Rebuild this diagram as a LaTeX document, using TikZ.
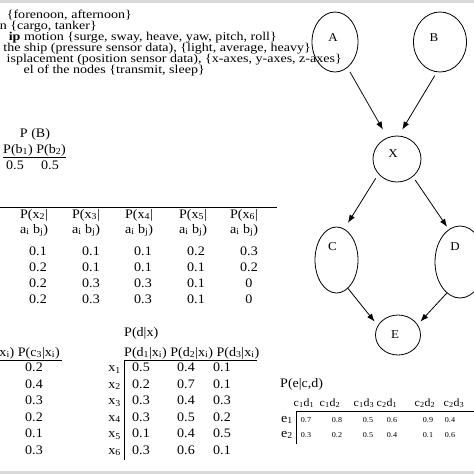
\documentclass[tikz,border=0pt]{standalone}
\usepackage{fontspec}
\setmainfont[FakeStretch=1.08]{Liberation Serif}
\newfontfamily\widefont[FakeStretch=1.17]{Liberation Serif}
\usetikzlibrary{shapes.geometric, arrows.meta, positioning}
\definecolor{bandgray}{RGB}{217,217,217}
\newcommand{\lo}[1]{\textsubscript{#1}}

\begin{document}
\begin{tikzpicture}[
  x=1pt, y=-1pt,
  txt/.style={inner sep=0pt, font=\fontsize{13}{13}\selectfont},
  line/.style={inner sep=0pt, anchor=base east, font=\widefont\fontsize{12}{12}\selectfont},
  val/.style={txt, anchor=base},
  hdr/.style={inner sep=0pt, anchor=base, font=\fontsize{11}{11}\selectfont},
  small/.style={inner sep=0pt, anchor=base, font=\fontsize{7.5}{7.5}\selectfont},
  bnode/.style={draw, ellipse, line width=0.8pt, inner sep=0pt},
  vlab/.style={inner sep=0pt, font=\fontsize{12}{12}\selectfont},
  link/.style={-{Latex[length=8pt, width=6pt]}, line width=0.8pt},
  rule/.style={line width=0.8pt}
]
  \useasboundingbox (0,0) rectangle (474,474);
  \clip (0,0) rectangle (474,474);
  \fill[bandgray] (0,0) rectangle (474,3);
  \fill[bandgray] (0,471) rectangle (474,474);

  % variables and their states
  \node[line] (tday) at (132,18) {\{forenoon, afternoon\}};
  \node[line] (ttype) at (97,29) {n \{cargo, tanker\}};
  \node[line] (tmotion) at (277,40) {\textbf{ip} motion \{surge, sway, heave, yaw, pitch, roll\}};
  \node[line] (tload) at (311,51) {the ship (pressure sensor data), \{light, average, heavy\}};
  \node[line] (tdisp) at (342,62) {isplacement (position sensor data), \{x-axes, y-axes, z-axes\}};
  \node[line] (tlevel) at (205,73) {el of the nodes \{transmit, sleep\}};

  % the network
  \node[bnode, minimum width=46pt, minimum height=60pt, label={[vlab, xshift=-2pt, yshift=4pt]center:A}] (A) at (335,42) {};
  \node[bnode, minimum width=53pt, minimum height=60pt, label={[vlab, xshift=-6pt, yshift=4pt]center:B}] (B) at (440,42) {};
  \node[bnode, minimum width=48pt, minimum height=46pt, label={[vlab, xshift=-4pt, yshift=5pt]center:X}] (X) at (397,159) {};
  \node[bnode, minimum width=43pt, minimum height=66pt, label={[vlab, xshift=-4pt, yshift=13pt]center:C}] (C) at (336.5,260) {};
  \node[bnode, minimum width=50pt, minimum height=72pt, label={[vlab, xshift=-5pt, yshift=15pt]center:D}] (D) at (460,262) {};
  \node[bnode, minimum width=45pt, minimum height=40pt, label={[vlab, xshift=-3pt]center:E}] (E) at (398,335) {};

  \draw[link, shorten <=5pt, shorten >=9pt] (A.296) -- (X.114);
  \draw[link, shorten <=4pt, shorten >=7pt] (B.264) -- (X.86);
  \draw[link, shorten <=5pt, shorten >=7pt] (X.219) -- (C.76);
  \draw[link, shorten <=4pt, shorten >=3pt] (X.312) -- (D.109);
  \draw[link, shorten >=5pt] (C.292) -- (E.155);
  \draw[link, shorten >=4pt] (D.247) -- (E.28);

  % P(B)
  \node[val] (pB) at (35,137) {P (B)};
  \node[txt, anchor=base west] (pBhead) at (3,153) {P(b\lo{1}) P(b\lo{2})};
  \draw[rule] ([yshift=-1.5pt]pBhead.south west) -- ([yshift=-1.5pt]pBhead.south east);
  \node[val] (pb1) at (15,169.5) {0.5};
  \node[val] (pb2) at (50,169.5) {0.5};

  % P(x|a,b)
  \draw[rule] (0,207) -- (277,207);
  \foreach \k/\cx in {2/34, 3/86, 4/139, 5/193, 6/244} {
    \node[val] (hx\k) at (\cx,218) {P(x\lo{\k}|};
    \node[val] (hab\k) at (\cx,233) {a\lo{i} b\lo{j})};
  }
  \foreach \a/\b/\c/\d/\e [count=\r] in {0.1/0.1/0.1/0.2/0.3, 0.2/0.1/0.1/0.1/0.2, 0.2/0.3/0.3/0.1/0, 0.2/0.3/0.3/0.1/0} {
    \pgfmathsetmacro{\ry}{239+16*\r}
    \node[val] (px\r-2) at (38,\ry) {\a};
    \node[val] (px\r-3) at (91,\ry) {\b};
    \node[val] (px\r-4) at (143,\ry) {\c};
    \node[val] (px\r-5) at (196,\ry) {\d};
    \node[val] (px\r-6) at (249,\ry) {\e};
  }

  % P(c|x)
  \node[txt, anchor=base east] (hc) at (60,356) {x\lo{i}) P(c\lo{3}|x\lo{i})};
  \draw[rule] (0,360) -- (62,360);
  \foreach \v [count=\r] in {0.2, 0.4, 0.3, 0.2, 0.1, 0.3} {
    \pgfmathsetmacro{\ry}{355+16.5*\r}
    \node[val] (pc\r) at (34,\ry) {\v};
  }

  % P(d|x)
  \node[txt, anchor=base west] (pdx) at (124,336) {P(d|x)};
  \node[txt, anchor=base west] (hd) at (124,356) {P(d\lo{1}|x\lo{i}) P(d\lo{2}|x\lo{i}) P(d\lo{3}|x\lo{i})};
  \draw[rule] (124,360) -- (257,360);
  \draw[rule] (124.5,360) -- (124.5,460);
  \foreach \p/\q/\s [count=\r] in {0.5/0.4/0.1, 0.2/0.7/0.1, 0.3/0.4/0.3, 0.3/0.5/0.2, 0.1/0.4/0.5, 0.3/0.6/0.1} {
    \pgfmathsetmacro{\ry}{355+16.5*\r}
    \node[txt, anchor=base east] (dx\r) at (121,\ry) {x\lo{\r}};
    \node[val] (pd\r-1) at (141,\ry) {\p};
    \node[val] (pd\r-2) at (186,\ry) {\q};
    \node[val] (pd\r-3) at (222,\ry) {\s};
  }

  % P(e|c,d)
  \node[txt, anchor=base west] (pe) at (280,387) {P(e|c,d)};
  \foreach \i/\j/\cx [count=\k] in {1/1/304, 1/2/330, 1/3/364, 2/1/387, 2/2/425, 2/3/454} {
    \node[hdr] (hcd\k) at (\cx,406) {c\lo{\i}d\lo{\j}};
  }
  \draw[rule] (296,411) -- (474,411);
  \draw[rule] (296,411) -- (296,444);
  \node[txt, anchor=base east] (e1) at (293,422) {e\lo{1}};
  \node[txt, anchor=base east] (e2) at (293,437) {e\lo{2}};
  \foreach \u/\w/\cx [count=\k] in {0.7/0.3/306, 0.8/0.2/337, 0.5/0.5/368, 0.6/0.4/392, 0.9/0.1/428, 0.4/0.6/450} {
    \node[small] (pe1-\k) at (\cx,422) {\u};
    \node[small] (pe2-\k) at (\cx,437) {\w};
  }
\end{tikzpicture}
\end{document}
